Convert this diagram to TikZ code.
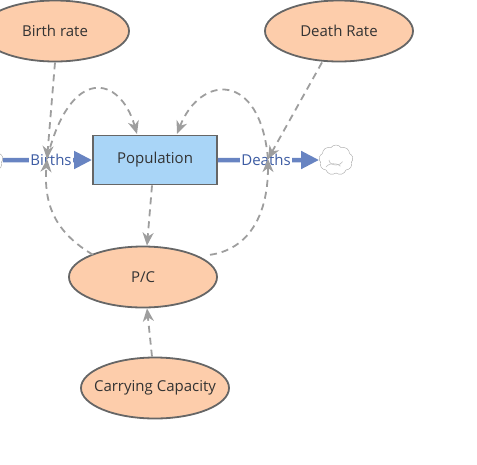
\documentclass[tikz,border=0pt]{standalone}
\usepackage{fontspec}
\setmainfont{Open Sans}
\usetikzlibrary{arrows.meta}
\usetikzlibrary{shapes.geometric}
\usetikzlibrary{shapes.symbols}
\definecolor{peach}{HTML}{FDCDAB}
\definecolor{stockblue}{HTML}{A9D5F7}
\definecolor{edgegray}{HTML}{666666}
\definecolor{linkgray}{HTML}{9E9E9E}
\definecolor{flowblue}{HTML}{6884C2}
\definecolor{flowtext}{HTML}{3D5CA3}
\tikzset{
varnode/.style={ellipse, draw=edgegray, line width=1.8pt, fill=peach, text=black!80, minimum width=148pt, minimum height=61pt, inner sep=0pt, font=\fontsize{15}{17}\selectfont},
stocknode/.style={rectangle, draw=edgegray, line width=1.8pt, fill=stockblue, text=black!80, minimum width=124pt, minimum height=49pt, inner sep=0pt, font=\fontsize{15}{17}\selectfont},
cloudnode/.style={cloud, cloud puffs=9, cloud puff arc=110, aspect=1.2, draw=black!35, fill=white, minimum width=34pt, minimum height=30pt, inner sep=0pt},
flow/.style={flowblue, line width=4.5pt, -{Triangle[length=18pt,width=17pt]}},
flowlabel/.style={flowtext, fill=white, inner sep=1pt, font=\fontsize{15}{17}\selectfont},
link/.style={linkgray, line width=1.8pt, dash pattern=on 7pt off 5pt, -{Stealth[length=13pt,width=11pt,inset=4pt]}}
}
\begin{document}
\begin{tikzpicture}[x=1pt,y=-1pt]
\useasboundingbox (0,0) rectangle (477,464);
\clip (0,0) rectangle (477,464);
% stock and clouds
\node[stocknode] (pop) at (155,160) {Population};
\node[cloudnode] (srccloud) at (-14,160) {};
\node[cloudnode] (sinkcloud) at (336,160) {};
\draw[black!25, line width=.6pt] (326,167) arc (200:330:8 and 5);
\draw[black!25, line width=.6pt] (329,160) arc (180:20:7 and 5);
% flows
\draw[flow] (srccloud.east) -- (pop.west);
\draw[flow] (pop.east) -- (sinkcloud.west);
\node[flowlabel] (births) at (51,160) {Births};
\node[flowlabel] (deaths) at (266,160) {Deaths};
\coordinate (bv) at (47,159);
\coordinate (dv) at (268,159);
% variables
\node[varnode] (birthrate) at (55,31) {Birth rate};
\node[varnode] (deathrate) at (339,31) {Death Rate};
\node[varnode] (pc) at (143,277) {P/C};
\node[varnode, inner xsep=-11pt] (cc) at (155,388) {Carrying Capacity};
% links
\coordinate (popinl) at (137,134);
\coordinate (popinr) at (177,134);
\draw[link] (birthrate.south) -- (bv);
\draw[link] (deathrate.south -| 322,0) -- (dv);
\draw[link] (bv) .. controls (70,65) and (120,75) .. (popinl);
\draw[link] (dv) .. controls (260,70) and (200,75) .. (popinr);
\draw[link] (pop.south -| 152,0) -- (pc.north -| 147,0);
\draw[link] (cc.north -| 152,0) -- (pc.south -| 147,0);
\draw[link] (pc.north west -| 93,0) .. controls (60,235) and (43,210) .. (bv);
\draw[link] (pc.north east -| 210,0) .. controls (245,250) and (268,220) .. (dv);
\end{tikzpicture}
\end{document}
